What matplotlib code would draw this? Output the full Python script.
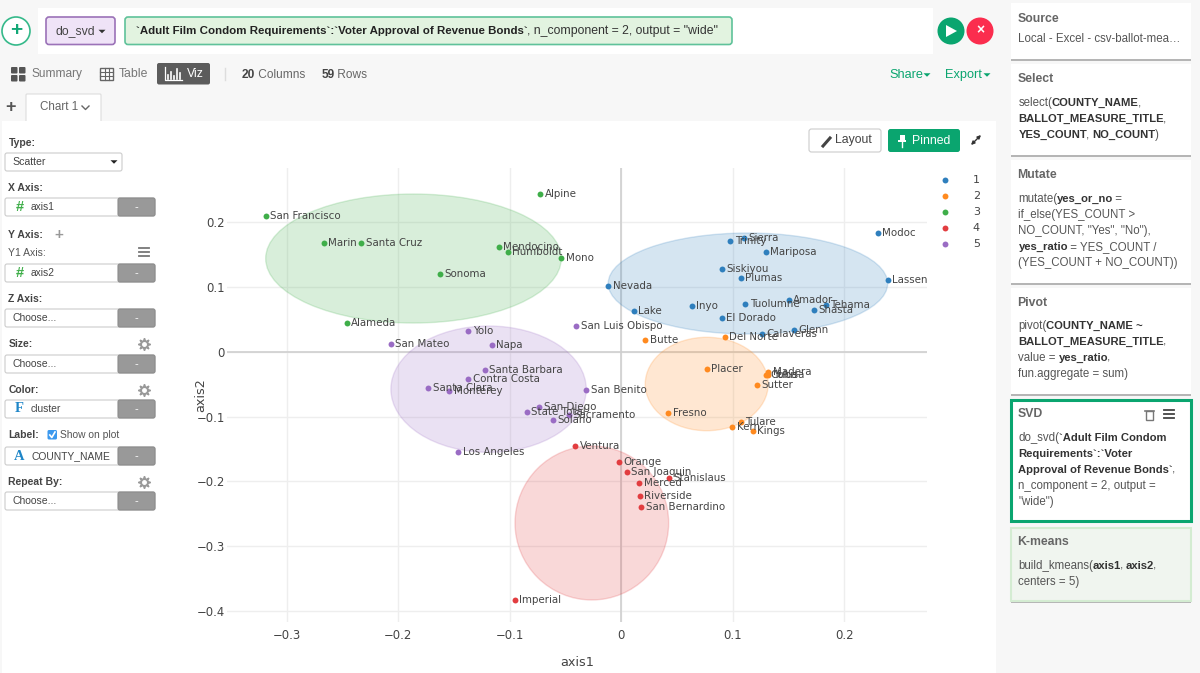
import matplotlib
matplotlib.use('Agg')
import matplotlib.pyplot as plt
from matplotlib.patches import Ellipse, FancyBboxPatch, Rectangle, Circle, Polygon

UI_FONT = 'Liberation Sans'
CHART_FONT = 'DejaVu Sans'
GREEN = '#0aa56f'
W, H = 1200, 673

# cluster data
names_1 = ['Sierra', 'Trinity', 'Mariposa', 'Modoc', 'Siskiyou', 'Plumas', 'Lassen', 'Nevada', 'Amador',
           'Tehama', 'Tuolumne', 'Inyo', 'Shasta', 'Lake', 'El Dorado', 'Glenn', 'Calaveras']
x_1 = [0.1104, 0.0978, 0.1299, 0.2303, 0.0904, 0.1074, 0.2390, -0.0116, 0.1505,
       0.1837, 0.1113, 0.0632, 0.1729, 0.0112, 0.0904, 0.1550, 0.1263]
y_1 = [0.1761, 0.1705, 0.1545, 0.1833, 0.1273, 0.1144, 0.1108, 0.1015, 0.0804,
       0.0722, 0.0733, 0.0711, 0.0640, 0.0634, 0.0526, 0.0336, 0.0275]

names_2 = ['Butte', 'Del Norte', 'Placer', 'Madera', 'Colusa', 'Yuba', 'Sutter', 'Fresno', 'Tulare', 'Kern', 'Kings']
x_2 = [0.0216, 0.0931, 0.0767, 0.1319, 0.1299, 0.1319, 0.1215, 0.0422, 0.1074, 0.0996, 0.1179]
y_2 = [0.0177, 0.0224, -0.0265, -0.0316, -0.0363, -0.0358, -0.0512, -0.0940, -0.1088, -0.1165, -0.1218]

names_3 = ['San Francisco', 'Alpine', 'Marin', 'Santa Cruz', 'Mendocino', 'Humboldt', 'Mono', 'Sonoma', 'Alameda']
x_3 = [-0.3188, -0.0728, -0.2668, -0.2331, -0.1096, -0.1018, -0.0537, -0.1622, -0.2462]
y_3 = [0.2100, 0.2435, 0.1679, 0.1679, 0.1613, 0.1540, 0.1452, 0.1196, 0.0444]

names_4 = ['Ventura', 'Orange', 'San Joaquin', 'Stanislaus', 'Merced', 'Riverside', 'San Bernardino', 'Imperial']
x_4 = [-0.0414, -0.0020, 0.0052, 0.0426, 0.0162, 0.0166, 0.0180, -0.0952]
y_4 = [-0.1454, -0.1705, -0.1860, -0.1943, -0.2020, -0.2225, -0.2390, -0.3830]

names_5 = ['Yolo', 'San Mateo', 'Napa', 'San Luis Obispo', 'Santa Barbara', 'Contra Costa', 'Santa Clara',
           'Monterey', 'San Benito', 'San Diego', 'State Total', 'Sacramento', 'Solano', 'Los Angeles']
x_5 = [-0.1371, -0.2065, -0.1161, -0.0403, -0.1224, -0.1371, -0.1730,
       -0.1542, -0.0313, -0.0735, -0.0848, -0.0471, -0.0612, -0.1461]
y_5 = [0.0321, 0.0125, 0.0100, 0.0398, -0.0285, -0.0415, -0.0554,
       -0.0610, -0.0585, -0.0856, -0.0924, -0.0971, -0.1052, -0.1551]

clusters = ['1', '2', '3', '4', '5']
cluster_colors = ['#2f7fbd', '#ff8a1f', '#3fae49', '#e23d40', '#9a6cc4']
x_ticks = [-0.3, -0.2, -0.1, 0, 0.1, 0.2]
x_tick_labels = ['\u22120.3', '\u22120.2', '\u22120.1', '0', '0.1', '0.2']
y_ticks = [-0.4, -0.3, -0.2, -0.1, 0, 0.1, 0.2]
y_tick_labels = ['\u22120.4', '\u22120.3', '\u22120.2', '\u22120.1', '0', '0.1', '0.2']

fig = plt.figure(figsize=(12, 6.73), dpi=100, facecolor='#f7f7f7')

# ============================================================
# UI layer, in pixel coordinates
# ============================================================
ui = fig.add_axes([0, 0, 1, 1])
ui.set_xlim(0, W)
ui.set_ylim(H, 0)
ui.axis('off')
renderer = fig.canvas.get_renderer()


def box(x0, y0, x1, y1, fc='white', ec='none', lw=0.8, r=2, z=1):
    p = FancyBboxPatch((x0 + r, y0 + r), x1 - x0 - 2 * r, y1 - y0 - 2 * r,
                       boxstyle=f'round,pad={r},rounding_size={r}', fc=fc, ec=ec, lw=lw, zorder=z)
    ui.add_patch(p)
    return p


def txt(x, y, s, size=7.5, color='#555555', bold=False, ha='left', z=5, family=UI_FONT):
    return ui.text(x, y, s, fontsize=size, color=color, ha=ha, va='center', zorder=z,
                   fontweight='bold' if bold else 'normal', family=family)


def runs(x, y, parts, size=8.3, bold_size=8.1, color='#555555', bold_color='#333333'):
    # mixed regular and bold text on one line
    for s, bold in parts:
        t = txt(x, y, s, size=bold_size if bold else size, color=bold_color if bold else color, bold=bold)
        x = t.get_window_extent(renderer).x1 - 0.8


def tri(x, y, w=3.5, h=3.5, color='#333333'):
    ui.add_patch(Polygon([(x - w, y - h / 2), (x + w, y - h / 2), (x, y + h / 2)], fc=color, ec='none', zorder=6))


def hamburger(x, y, w=7, color='#777777'):
    for dy in (-4, 0, 4):
        ui.plot([x - w, x + w], [y + dy, y + dy], color=color, lw=1.3, zorder=6)


def gear(x, y):
    ui.plot([x], [y], marker=(8, 1, 0), ms=9, color='#999999', zorder=6)
    ui.plot([x], [y], marker='o', ms=2.5, color='white', zorder=7)


def field(y, label=None, icon=None, icon_color='#555555', serif=False):
    box(5, y, 155, y + 18, fc='white', ec='#cccccc')
    box(118, y, 155, y + 18, fc='#999999', ec='#8c8c8c')
    txt(136.5, y + 9, '-', size=8, color='white', ha='center')
    if icon:
        ui.text(19.5, y + 9, icon, fontsize=10.5, color=icon_color, ha='center', va='center', fontweight='bold',
                family='Liberation Serif' if serif else UI_FONT, zorder=6)
        txt(31, y + 9, label, size=7.4, color='#444444')
    else:
        txt(12.5, y + 9, label, size=7.5, color='#444444')


# top bar
ui.add_patch(Rectangle((38, 8), 895, 46, fc='white', ec='none', zorder=0.5))
ui.add_patch(Circle((16, 31), 14, fc='white', ec='#35b98a', lw=1.2, zorder=2))
txt(16, 30.5, '+', size=15, color='#13a877', bold=True, ha='center')
box(46, 17, 115, 44.5, fc='#efe3f7', ec='#9b72b8', lw=1.2, r=3)
txt(56, 31, 'do_svd', size=8.8, color='#444444')
tri(102, 31.5)
box(125, 17, 732, 44.5, fc='#e2f3e0', ec='#5fc29a', lw=1.2, r=3)
runs(136, 31, [('`Adult Film Condom Requirements`:`Voter Approval of Revenue Bonds`', True),
               (', n_component = 2, output = "wide"', False)], size=8.85, bold_size=8.25,
     color='#333333', bold_color='#222222')
ui.add_patch(Circle((951, 31), 13.5, fc=GREEN, ec='none', zorder=2))
ui.add_patch(Polygon([(946, 25), (946, 37), (957, 31)], fc='white', ec='none', zorder=3))
ui.add_patch(Circle((980, 31), 13.5, fc='#fb2d4e', ec='none', zorder=2))
txt(980, 30.5, '\u00d7', size=10, color='white', bold=True, ha='center')

# view tabs
for gx, gy in [(11, 67), (19, 67), (11, 75), (19, 75)]:
    box(gx, gy, gx + 6.5, gy + 6.5, fc='#555555', r=1)
txt(31, 74, 'Summary', size=8.6, color='#777777')
ui.add_patch(Rectangle((100, 67.5), 13, 12, fc='white', ec='#666666', lw=1, zorder=3))
for v in (104.5, 108.5):
    ui.plot([v, v], [67.5, 79.5], color='#666666', lw=0.8, zorder=4)
for v in (71.5, 75.5):
    ui.plot([100, 113], [v, v], color='#666666', lw=0.8, zorder=4)
txt(119, 74, 'Table', size=8.8, color='#777777')
box(157, 63, 210, 84.5, fc='#5c5c5c', r=2)
ui.plot([165, 165, 182], [67, 80, 80], color='white', lw=0.9, zorder=4)
for v, top in zip((168, 171, 174, 177, 180), (75, 72, 76, 69, 73)):
    ui.plot([v, v], [79, top], color='white', lw=1.2, zorder=4)
txt(187, 74, 'Viz', size=8.8, color='white')
ui.plot([225, 225], [68, 80], color='#dddddd', lw=1)
runs(242, 75, [('20', True), (' Columns', False)], size=8.6, bold_size=8.6, color='#666666', bold_color='#444444')
runs(322, 75, [('59', True), (' Rows', False)], size=8.6, bold_size=8.6, color='#666666', bold_color='#444444')
txt(889, 75, 'Share', size=9.2, color=GREEN)
tri(927, 75, color=GREEN)
txt(945, 75, 'Export', size=9.2, color=GREEN)
tri(987, 75, color=GREEN)

# chart tab and panel
txt(11, 107.5, '+', size=13, color='#555555', bold=True, ha='center')
ui.add_patch(Rectangle((2, 121), 994, 552, fc='white', ec='none', zorder=0.5))
box(26, 94, 101, 125, fc='white', ec='#dddddd', r=1, z=0.4)
ui.add_patch(Rectangle((27, 119), 73, 4, fc='white', ec='none', zorder=0.6))
txt(39.5, 107.5, 'Chart 1', size=8.4, color='#666666')
ui.plot([82, 85.5, 89], [106, 109.5, 106], color='#666666', lw=1, zorder=5)

# chart options on the left
txt(8.5, 143, 'Type:', size=7.5, color='#444444', bold=True)
box(5, 153, 122, 171, fc='white', ec='#cccccc')
txt(12.5, 162, 'Scatter', size=7.6, color='#444444')
tri(114, 162, color='#222222')
txt(8.5, 188, 'X Axis:', size=7.5, color='#444444', bold=True)
field(198, 'axis1', '#', '#3fae49')
txt(8.5, 235, 'Y Axis:', size=7.5, color='#444444', bold=True)
txt(59, 235, '+', size=11, color='#999999', bold=True, ha='center')
txt(8.5, 252.5, 'Y1 Axis:', size=7.5, color='#555555')
hamburger(144, 252, w=5)
field(264, 'axis2', '#', '#3fae49')
txt(8.5, 299, 'Z Axis:', size=7.5, color='#444444', bold=True)
field(309, 'Choose...')
txt(8.5, 344, 'Size:', size=7.5, color='#444444', bold=True)
gear(144, 344)
field(355, 'Choose...')
txt(8.5, 390, 'Color:', size=7.5, color='#444444', bold=True)
gear(144, 390)
field(400, 'cluster', 'F', '#1f86c8', serif=True)
txt(8.5, 435, 'Label:', size=7.5, color='#444444', bold=True)
box(47.5, 430, 57, 439.5, fc='#3b99ee', r=1.5)
ui.plot([49.8, 51.8, 55], [435, 437.5, 432], color='white', lw=1.2, zorder=6)
txt(60, 435, 'Show on plot', size=7.4, color='#555555')
field(447, 'COUNTY_NAME', 'A', '#1f86c8', serif=True)
txt(8.5, 482, 'Repeat By:', size=7.5, color='#444444', bold=True)
gear(144, 482)
field(492, 'Choose...')

# buttons above the chart
box(809, 129, 881, 152, fc='white', ec='#cccccc', r=2.5)
ui.plot([823, 830], [146, 138], color='#444444', lw=2.2, zorder=6)
txt(835, 140.5, 'Layout', size=8.8, color='#444444')
box(888, 129, 960, 152, fc=GREEN, r=2.5)
ui.add_patch(Rectangle((899.5, 135), 5, 5, fc='white', ec='none', zorder=6))
ui.add_patch(Rectangle((898, 140), 8, 2, fc='white', ec='none', zorder=6))
ui.plot([902, 902], [142, 147], color='white', lw=1, zorder=6)
txt(912, 140.5, 'Pinned', size=8.8, color='white')
ui.annotate('', xy=(981, 135), xytext=(971, 145), zorder=6,
            arrowprops=dict(arrowstyle='<|-|>', color='#333333', lw=1, mutation_scale=5, shrinkA=0, shrinkB=0))

# pipeline steps on the right
steps = [
    (3, 59, 'Source', 19, [(39, [('Local - Excel - csv-ballot-mea\u2026', False)])]),
    (64, 155, 'Select', 79, [(103, [('select(', False), ('COUNTY_NAME', True), (',', False)]),
                             (119, [('BALLOT_MEASURE_TITLE', True), (',', False)]),
                             (135, [('YES_COUNT', True), (', ', False), ('NO_COUNT', True), (')', False)])]),
    (160, 283, 'Mutate', 175, [(199, [('mutate(', False), ('yes_or_no', True), (' =', False)]),
                               (215, [('if_else(YES_COUNT >', False)]),
                               (231, [('NO_COUNT, "Yes", "No"),', False)]),
                               (247, [('yes_ratio', True), (' = YES_COUNT /', False)]),
                               (263, [('(YES_COUNT + NO_COUNT))', False)])]),
    (288, 394, 'Pivot', 303, [(326, [('pivot(', False), ('COUNTY_NAME ~', True)]),
                              (342, [('BALLOT_MEASURE_TITLE', True), (',', False)]),
                              (358, [('value = ', False), ('yes_ratio', True), (',', False)]),
                              (374, [('fun.aggregate = sum)', False)])]),
    (400, 521, 'SVD', 414, [(438, [('do_svd(', False), ('`Adult Film Condom', True)]),
                            (454, [('Requirements`:`Voter', True)]),
                            (470, [('Approval of Revenue Bonds`', True), (',', False)]),
                            (486, [('n_component = 2, output =', False)]),
                            (502, [('"wide")', False)])]),
    (528, 601, 'K-means', 542, [(566, [('build_kmeans(', False), ('axis1', True), (', ', False),
                                       ('axis2', True), (',', False)]),
                                (582, [('centers = 5)', False)])]),
]
for y0, y1, title, ty, lines in steps:
    ui.add_patch(Rectangle((1011, y0 + 1.5), 180, y1 - y0, fc='#b5b5b5', ec='none', zorder=0.8))
    fc, ec, lw = 'white', 'none', 0
    if title == 'SVD':
        ec, lw = GREEN, 2.2
    if title == 'K-means':
        fc, ec, lw = '#f0f5ef', '#d4ecd2', 1.5
    ui.add_patch(Rectangle((1011, y0), 180, y1 - y0, fc=fc, ec=ec, lw=lw, zorder=1))
    txt(1017.5, ty, title, size=8.8, color='#666666', bold=True)
    for ly, parts in lines:
        runs(1018.5, ly, parts)
# trash and menu icons on the active step
ui.add_patch(Rectangle((1146, 411), 7, 9, fc='white', ec='#777777', lw=1, zorder=6))
ui.plot([1145, 1154], [410.5, 410.5], color='#777777', lw=1.2, zorder=6)
hamburger(1168.5, 414, w=5, color='#444444')

# ============================================================
# Scatter chart
# ============================================================
left, right, top, bottom = 227, 927, 168, 622
ax = fig.add_axes([left / W, 1 - bottom / H, (right - left) / W, (bottom - top) / H])
ax.patch.set_alpha(0)
ax.set_xlim(-0.3535, 0.2743)
ax.set_ylim((351.8 - bottom) / 648, (351.8 - top) / 648)
for s in ax.spines.values():
    s.set_visible(False)
ax.set_xticks(x_ticks)
ax.set_xticklabels(x_tick_labels)
ax.set_yticks(y_ticks)
ax.set_yticklabels(y_tick_labels)
ax.tick_params(length=0, labelsize=8.4, labelcolor='#444444', pad=1.5)
ax.tick_params(axis='x', pad=5)
ax.grid(color='#eeeeee', lw=1)
ax.set_axisbelow(True)
ax.axhline(0, color='#cfcfcf', lw=1.2, zorder=1)
ax.axvline(0, color='#cfcfcf', lw=1.2, zorder=1)
ax.set_xlabel('axis1', fontsize=9.2, color='#444444', labelpad=10)
ax.set_ylabel('axis2', fontsize=9.2, color='#444444', labelpad=-8)

series = [(names_1, x_1, y_1), (names_2, x_2, y_2), (names_3, x_3, y_3), (names_4, x_4, y_4), (names_5, x_5, y_5)]
for (names, xs, ys), cluster, color in zip(series, clusters, cluster_colors):
    # each ellipse is the bounding box of its cluster
    x0, x1, y0, y1 = min(xs), max(xs), min(ys), max(ys)
    ax.add_patch(Ellipse(((x0 + x1) / 2, (y0 + y1) / 2), x1 - x0, y1 - y0, fc=color, ec=color, alpha=0.2, lw=1, zorder=2))
    ax.scatter(xs, ys, s=18, color=color, linewidths=0, zorder=4, label=cluster, clip_on=False)
    for n, px, py in zip(names, xs, ys):
        ax.annotate(n, (px, py), xytext=(3.2, 0), textcoords='offset points', va='center', ha='left',
                    fontsize=7.4, color='#444444', family=CHART_FONT, zorder=5)

ax.legend(loc='upper left', bbox_to_anchor=(934 / W, 1 - 175 / H), bbox_transform=fig.transFigure, frameon=False,
          fontsize=8, labelcolor='#444444', handletextpad=1.5, labelspacing=0.53, borderpad=0, borderaxespad=0)

plt.savefig('out.png', dpi=100, facecolor=fig.get_facecolor())
plt.close()
